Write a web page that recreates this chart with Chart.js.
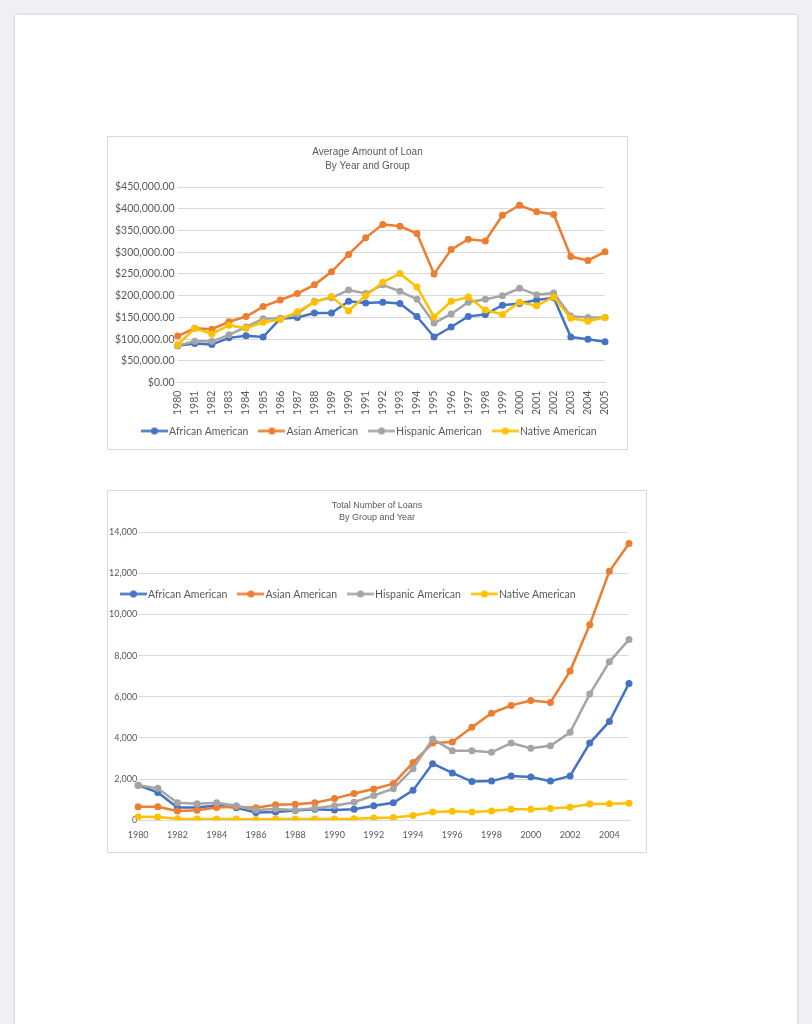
<!DOCTYPE html>
<html>
<head>
<meta charset="utf-8">
<script src="https://cdn.jsdelivr.net/npm/chart.js@4.4.1/dist/chart.umd.min.js"></script>
<style>
  body { margin: 0; background: #f0eff4; }
  .page { position: absolute; left: 15px; top: 15px; width: 782px; height: 1020px; background: #fff; box-shadow: 0 0 3px rgba(0,0,0,0.18); }
  .box { position: absolute; box-sizing: border-box; border: 1px solid #d9d9d9; background: #fff; }
  #box1 { left: 107px; top: 136px; width: 521px; height: 314px; }
  #box2 { left: 107px; top: 490px; width: 540px; height: 363px; }
</style>
</head>
<body>
<div class="page"></div>
<div class="box" id="box1"><canvas id="avgChart"></canvas></div>
<div class="box" id="box2"><canvas id="countChart"></canvas></div>
<script>
// Years on the x axis
var years = ['1980','1981','1982','1983','1984','1985','1986','1987','1988','1989','1990','1991','1992',
             '1993','1994','1995','1996','1997','1998','1999','2000','2001','2002','2003','2004','2005'];
var groups = ['African American', 'Asian American', 'Hispanic American', 'Native American'];

// Average amount of loan (dollars)
var avgAfrican  = [85000, 90000, 88000, 103000, 108000, 105000, 147000, 150000, 160000, 160000, 187000, 183000, 185000,
                   182000, 152000, 105000, 128000, 152000, 157000, 178000, 182000, 190000, 195000, 105000, 100000, 94000];
var avgAsian    = [107000, 125000, 123000, 140000, 152000, 175000, 190000, 205000, 225000, 255000, 295000, 333000, 364000,
                   360000, 343000, 250000, 306000, 330000, 326000, 385000, 408000, 393000, 387000, 290000, 281000, 301000];
var avgHispanic = [85000, 95000, 95000, 110000, 128000, 147000, 148000, 158000, 187000, 195000, 213000, 205000, 225000,
                   210000, 192000, 137000, 158000, 185000, 192000, 200000, 217000, 202000, 206000, 153000, 150000, 150000];
var avgNative   = [87000, 125000, 112000, 132000, 125000, 139000, 145000, 163000, 185000, 198000, 165000, 200000, 231000,
                   251000, 220000, 151000, 187000, 197000, 167000, 157000, 185000, 177000, 197000, 148000, 141000, 150000];

// Total number of loans
var cntAfrican  = [1700, 1350, 620, 620, 720, 600, 370, 400, 470, 530, 500, 530, 700,
                   850, 1450, 2750, 2300, 1880, 1900, 2150, 2100, 1900, 2150, 3750, 4800, 6650];
var cntAsian    = [650, 650, 450, 480, 620, 650, 600, 750, 780, 850, 1050, 1300, 1520,
                   1780, 2800, 3750, 3800, 4520, 5200, 5580, 5820, 5720, 7250, 9500, 12100, 13450];
var cntHispanic = [1700, 1550, 850, 800, 850, 700, 500, 550, 500, 580, 700, 870, 1200,
                   1530, 2500, 3950, 3380, 3380, 3300, 3750, 3500, 3620, 4270, 6130, 7700, 8780];
var cntNative   = [170, 150, 70, 60, 60, 60, 30, 60, 60, 60, 60, 70, 110,
                   130, 230, 400, 430, 400, 450, 530, 530, 570, 630, 790, 800, 830];

var colors = ['#4472C4', '#ED7D31', '#A5A5A5', '#FFC000'];
var textGray = '#595959';
var gridGray = '#d9d9d9';
var titleFont = "'Liberation Sans', Arial, sans-serif";

// little "line with dot" legend markers, like Excel
function makeMarker(color) {
    var c = document.createElement('canvas');
    c.width = 27; c.height = 9;
    var g = c.getContext('2d');
    g.strokeStyle = color; g.lineWidth = 2.5;
    g.beginPath(); g.moveTo(0, 4.5); g.lineTo(27, 4.5); g.stroke();
    g.fillStyle = color;
    g.beginPath(); g.arc(13.5, 4.5, 3.6, 0, Math.PI * 2); g.fill();
    return c;
}
var markers = colors.map(makeMarker);

function buildSets(series) {
    return series.map(function(values, i) {
        return {
            label: groups[i],
            data: values,
            borderColor: colors[i],
            backgroundColor: colors[i],
            borderWidth: 2.5,
            pointRadius: 3.5,
            pointBorderWidth: 0,
            pointHoverRadius: 4,
            tension: 0,
            order: 3 - i   // later series on top, as in Excel
        };
    });
}

// legend drawn at a fixed spot (Excel style, line + dot marker)
// and title centred on the whole box rather than the padded area
var placedLegend = {
    id: 'placedLegend',
    afterLayout: function(chart) {
        var t = chart.titleBlock;
        if (t) { t.left = 0; t.right = chart.width; t.width = chart.width; }
    },
    afterDraw: function(chart, args, opts) {
        var c = chart.ctx;
        var x = opts.x, y = opts.y;
        c.save();
        c.font = '10.5px Lato';
        c.textBaseline = 'middle';
        c.fillStyle = textGray;
        chart.data.datasets.forEach(function(ds, i) {
            c.drawImage(markers[i], x, y - 4.5);
            x += 28;
            c.fillText(ds.label, x, y + 0.5);
            x += c.measureText(ds.label).width + 10;
        });
        c.restore();
    }
};

// Chart 1: average amount of loan
var ctx1 = document.getElementById('avgChart').getContext('2d');
var avgChart = new Chart(ctx1, {
    type: 'line',
    data: {
        labels: years,
        datasets: buildSets([avgAfrican, avgAsian, avgHispanic, avgNative])
    },
    plugins: [placedLegend],
    options: {
        responsive: true,
        maintainAspectRatio: false,
        animation: false,
        layout: { padding: { left: 4, right: 22, top: 2, bottom: 34 } },
        scales: {
            x: {
                grid: { display: false },
                border: { color: gridGray },
                ticks: {
                    color: textGray, font: { family: 'Lato', size: 10.5 },
                    minRotation: 90, maxRotation: 90, autoSkip: false, padding: 0
                }
            },
            y: {
                min: 0, max: 450000,
                grid: { color: gridGray, drawTicks: false },
                border: { display: false },
                ticks: {
                    stepSize: 50000, padding: 3,
                    color: textGray, font: { family: 'Lato', size: 10.5 },
                    callback: function(v) {
                        return '$' + v.toLocaleString('en-US', { minimumFractionDigits: 2, maximumFractionDigits: 2 });
                    }
                }
            }
        },
        plugins: {
            title: {
                display: true,
                text: ['Average Amount of Loan', 'By Year and Group'],
                color: textGray,
                font: { family: titleFont, size: 10, weight: 'normal', lineHeight: 1.4 },
                padding: { top: 6, bottom: 14 }
            },
            legend: { display: false },
            placedLegend: { x: 33, y: 294 },
            tooltip: { enabled: true }
        }
    }
});

// Chart 2: total number of loans
var ctx2 = document.getElementById('countChart').getContext('2d');
var countChart = new Chart(ctx2, {
    type: 'line',
    data: {
        labels: years,
        datasets: buildSets([cntAfrican, cntAsian, cntHispanic, cntNative])
    },
    plugins: [placedLegend],
    options: {
        responsive: true,
        maintainAspectRatio: false,
        animation: false,
        layout: { padding: { left: 0, right: 17, top: 2, bottom: 11 } },
        scales: {
            x: {
                grid: { display: false },
                border: { color: gridGray },
                ticks: {
                    color: textGray, font: { family: 'Lato', size: 9 },
                    maxRotation: 0, autoSkip: false, padding: 1,
                    callback: function(v, i) { return i % 2 === 0 ? years[i] : ''; }
                }
            },
            y: {
                min: 0, max: 14000,
                grid: { color: gridGray, drawTicks: false },
                border: { display: false },
                ticks: {
                    stepSize: 2000, padding: 1,
                    color: textGray, font: { family: 'Lato', size: 9 },
                    callback: function(v) { return v.toLocaleString('en-US'); }
                }
            }
        },
        plugins: {
            title: {
                display: true,
                text: ['Total Number of Loans', 'By Group and Year'],
                color: textGray,
                font: { family: titleFont, size: 9, weight: 'normal', lineHeight: 1.4 },
                padding: { top: 6, bottom: 8 }
            },
            legend: { display: false },
            placedLegend: { x: 12, y: 103 },
            tooltip: { enabled: true }
        }
    }
});
</script>
</body>
</html>
